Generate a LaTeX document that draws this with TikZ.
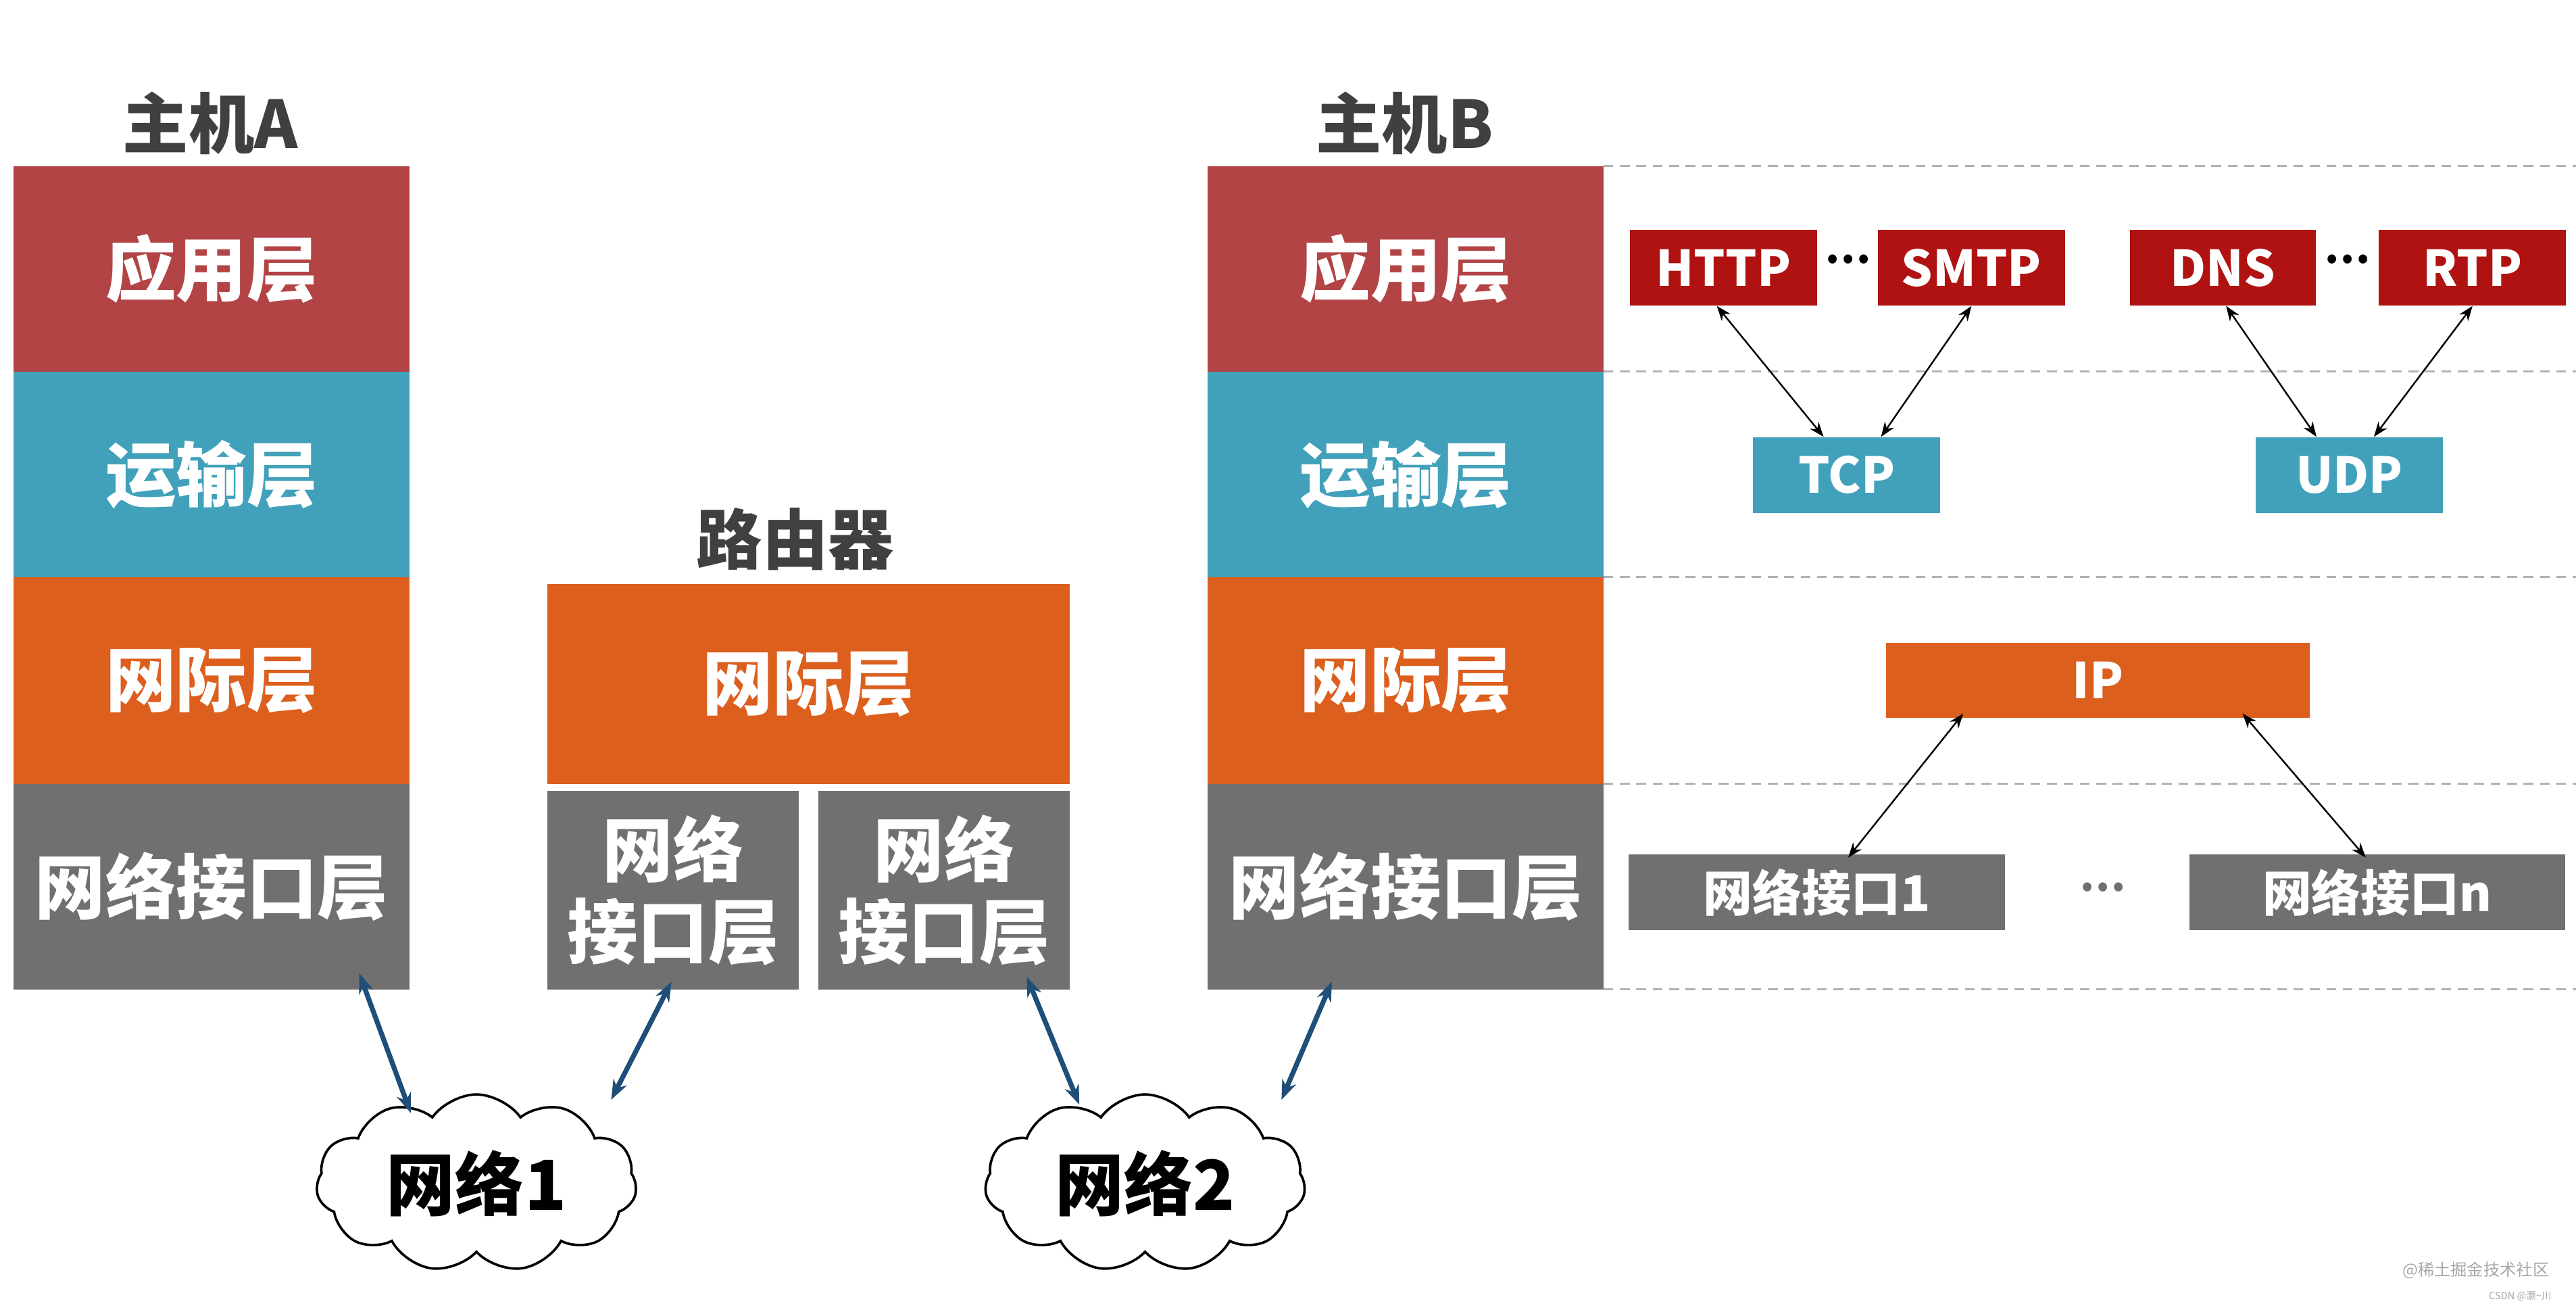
\documentclass[tikz,border=0pt]{standalone}
\usepackage{fontspec}
\setmainfont{Noto Sans CJK SC}
\usetikzlibrary{shapes.symbols,arrows.meta}
\definecolor{cApp}{HTML}{B34446}
\definecolor{cTr}{HTML}{41A1BA}
\definecolor{cNet}{HTML}{DC5F1E}
\definecolor{cIf}{HTML}{707070}
\definecolor{cRed}{HTML}{B01212}
\definecolor{cBlue}{HTML}{1F4E79}
\definecolor{cTxt}{HTML}{404040}
\tikzset{
  lay/.style={draw=none,inner sep=0pt,text=white,font=\fontsize{43}{50}\selectfont\bfseries,align=center},
  small/.style={draw=none,inner sep=0pt,text=white,font=\fontsize{30}{34}\selectfont\bfseries},
  title/.style={text=cTxt,font=\fontsize{40}{44}\selectfont\bfseries},
  dl/.style={draw=gray!60,line width=1.5pt,dash pattern=on 6pt off 4pt},
  ba/.style={{Stealth[length=9pt]}-{Stealth[length=9pt]},line width=1pt},
  na/.style={{Stealth[length=12pt]}-{Stealth[length=12pt]},line width=3pt,cBlue},
  cl/.style={cloud,cloud puffs=11,cloud puff arc=110,aspect=1.8,draw,line width=1.5pt,fill=white,minimum width=195pt,minimum height=108pt,font=\fontsize{42}{46}\selectfont\bfseries,inner sep=0pt}
}
\begin{document}
\begin{tikzpicture}[x=1pt,y=-1pt]
\useasboundingbox (0,0) rectangle (1568,798);
% dashed lines
\foreach \y in {101,226,351,477,602} \draw[dl] (976,\y) -- (1568,\y);
% Host A
\node[title] (ta) at (128,75) {主机A};
\node[lay,fill=cApp,minimum width=241pt,minimum height=125pt,anchor=north west] (a1) at (8,101) {应用层};
\node[lay,fill=cTr,minimum width=241pt,minimum height=125pt,anchor=north west] (a2) at (8,226) {运输层};
\node[lay,fill=cNet,minimum width=241pt,minimum height=126pt,anchor=north west] (a3) at (8,351) {网际层};
\node[lay,fill=cIf,minimum width=241pt,minimum height=125pt,anchor=north west] (a4) at (8,477) {网络接口层};
% Router
\node[title] (tr) at (484,328) {路由器};
\node[lay,fill=cNet,minimum width=318pt,minimum height=122pt,anchor=north west] (r1) at (333,355) {网际层};
\node[lay,fill=cIf,minimum width=153pt,minimum height=121pt,anchor=north west] (r2) at (333,481) {网络\\接口层};
\node[lay,fill=cIf,minimum width=153pt,minimum height=121pt,anchor=north west] (r3) at (498,481) {网络\\接口层};
% Host B
\node[title] (tb) at (855,75) {主机B};
\node[lay,fill=cApp,minimum width=241pt,minimum height=125pt,anchor=north west] (b1) at (735,101) {应用层};
\node[lay,fill=cTr,minimum width=241pt,minimum height=125pt,anchor=north west] (b2) at (735,226) {运输层};
\node[lay,fill=cNet,minimum width=241pt,minimum height=126pt,anchor=north west] (b3) at (735,351) {网际层};
\node[lay,fill=cIf,minimum width=241pt,minimum height=125pt,anchor=north west] (b4) at (735,477) {网络接口层};
% protocols
\node[small,fill=cRed,minimum width=114pt,minimum height=46pt] (http) at (1049,163) {HTTP};
\node[small,fill=cRed,minimum width=114pt,minimum height=46pt] (smtp) at (1200,163) {SMTP};
\node[small,fill=cRed,minimum width=113pt,minimum height=46pt] (dns) at (1353,163) {DNS};
\node[small,fill=cRed,minimum width=114pt,minimum height=46pt] (rtp) at (1505,163) {RTP};
\node[font=\fontsize{25}{28}\selectfont\bfseries] (d1) at (1125,158) {…};
\node[font=\fontsize{25}{28}\selectfont\bfseries] (d2) at (1429,158) {…};
\node[small,fill=cTr,minimum width=114pt,minimum height=46pt] (tcp) at (1124,289) {TCP};
\node[small,fill=cTr,minimum width=114pt,minimum height=46pt] (udp) at (1430,289) {UDP};
\node[small,fill=cNet,minimum width=258pt,minimum height=46pt] (ip) at (1277,414) {IP};
\node[small,fill=cIf,minimum width=229pt,minimum height=46pt] (if1) at (1106,543) {网络接口1};
\node[small,fill=cIf,minimum width=229pt,minimum height=46pt] (ifn) at (1447,543) {网络接口n};
\node[text=cIf,font=\fontsize{25}{28}\selectfont\bfseries] (d3) at (1280,540) {…};
\draw[ba] ([xshift=-4pt]http.south) -- ([xshift=-14pt]tcp.north);
\draw[ba] (smtp.south) -- ([xshift=21pt]tcp.north);
\draw[ba] ([xshift=2pt]dns.south) -- ([xshift=-20pt]udp.north);
\draw[ba] (rtp.south) -- ([xshift=15pt]udp.north);
\draw[ba] ([xshift=-82pt,yshift=3pt]ip.south) -- ([xshift=19pt,yshift=-2pt]if1.north);
\draw[ba] ([xshift=88pt,yshift=3pt]ip.south) -- ([xshift=-7pt,yshift=-2pt]ifn.north);
% clouds
\node[cl] (n1) at (290,720) {网络1};
\node[cl] (n2) at (697,720) {网络2};
\draw[na] ([xshift=90pt,yshift=10pt]a4.south) -- ([xshift=-40pt,yshift=-12pt]n1.north);
\draw[na] ([xshift=-1pt,yshift=5pt]r2.south) -- ([xshift=82pt,yshift=-4pt]n1.north);
\draw[na] ([xshift=127pt,yshift=8pt]r3.south west) -- ([xshift=-40pt,yshift=-7pt]n2.north);
\draw[na] ([xshift=-45pt,yshift=5pt]b4.south) -- ([xshift=83pt,yshift=-4pt]n2.north);
% watermark
\node[text=gray!70,font=\fontsize{10}{12}\selectfont] (w1) at (1507,773) {@稀土掘金技术社区};
\node[text=gray!70,font=\fontsize{6}{7}\selectfont] (w2) at (1534,789) {CSDN @灏\textasciitilde 川};
\end{tikzpicture}
\end{document}
